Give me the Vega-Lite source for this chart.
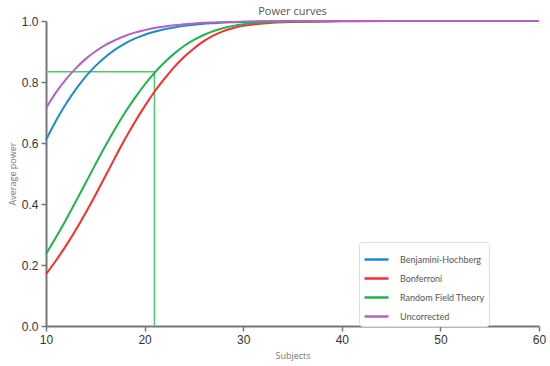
{
  "$schema": "https://vega.github.io/schema/vega-lite/v6.json",
  "width": 493,
  "height": 305,
  "autosize": {"type": "none"},
  "padding": {"left": 46, "top": 21, "right": 11, "bottom": 40},
  "background": "white",
  "title": {"text": "Power curves", "anchor": "middle", "fontSize": 11, "font": "Open Sans", "fontWeight": "normal", "color": "#555", "offset": -2},
  "config": {
    "view": {"stroke": null},
    "axis": {"grid": false, "labelFlush": false, "domainColor": "#777", "domainWidth": 2, "tickColor": "#777", "tickWidth": 1.5, "tickSize": 5, "labelFont": "Liberation Sans", "labelFontSize": 12, "labelColor": "#333", "titleFont": "Open Sans", "titleFontSize": 9, "titleFontWeight": "normal", "titleColor": "#777"}
  },
  "datasets": {
    "curves": [
      {"n":10,"power":0.61,"method":"Benjamini-Hochberg"},{"n":11,"power":0.672,"method":"Benjamini-Hochberg"},{"n":12,"power":0.727,"method":"Benjamini-Hochberg"},{"n":13,"power":0.775,"method":"Benjamini-Hochberg"},{"n":14,"power":0.817,"method":"Benjamini-Hochberg"},{"n":15,"power":0.852,"method":"Benjamini-Hochberg"},{"n":16,"power":0.881,"method":"Benjamini-Hochberg"},{"n":17,"power":0.906,"method":"Benjamini-Hochberg"},{"n":18,"power":0.926,"method":"Benjamini-Hochberg"},{"n":19,"power":0.942,"method":"Benjamini-Hochberg"},{"n":20,"power":0.955,"method":"Benjamini-Hochberg"},{"n":21,"power":0.965,"method":"Benjamini-Hochberg"},{"n":22,"power":0.973,"method":"Benjamini-Hochberg"},{"n":23,"power":0.979,"method":"Benjamini-Hochberg"},{"n":24,"power":0.984,"method":"Benjamini-Hochberg"},{"n":25,"power":0.988,"method":"Benjamini-Hochberg"},{"n":26,"power":0.991,"method":"Benjamini-Hochberg"},{"n":27,"power":0.993,"method":"Benjamini-Hochberg"},{"n":28,"power":0.995,"method":"Benjamini-Hochberg"},{"n":29,"power":0.996,"method":"Benjamini-Hochberg"},{"n":30,"power":0.997,"method":"Benjamini-Hochberg"},{"n":32,"power":0.998,"method":"Benjamini-Hochberg"},{"n":35,"power":0.999,"method":"Benjamini-Hochberg"},{"n":40,"power":1,"method":"Benjamini-Hochberg"},{"n":45,"power":1,"method":"Benjamini-Hochberg"},{"n":50,"power":1,"method":"Benjamini-Hochberg"},{"n":55,"power":1,"method":"Benjamini-Hochberg"},{"n":60,"power":1,"method":"Benjamini-Hochberg"},
      {"n":10,"power":0.17,"method":"Bonferroni"},{"n":11,"power":0.214,"method":"Bonferroni"},{"n":12,"power":0.262,"method":"Bonferroni"},{"n":13,"power":0.314,"method":"Bonferroni"},{"n":14,"power":0.37,"method":"Bonferroni"},{"n":15,"power":0.429,"method":"Bonferroni"},{"n":16,"power":0.49,"method":"Bonferroni"},{"n":17,"power":0.552,"method":"Bonferroni"},{"n":18,"power":0.612,"method":"Bonferroni"},{"n":19,"power":0.668,"method":"Bonferroni"},{"n":20,"power":0.72,"method":"Bonferroni"},{"n":21,"power":0.768,"method":"Bonferroni"},{"n":22,"power":0.81,"method":"Bonferroni"},{"n":23,"power":0.849,"method":"Bonferroni"},{"n":24,"power":0.882,"method":"Bonferroni"},{"n":25,"power":0.91,"method":"Bonferroni"},{"n":26,"power":0.934,"method":"Bonferroni"},{"n":27,"power":0.953,"method":"Bonferroni"},{"n":28,"power":0.967,"method":"Bonferroni"},{"n":29,"power":0.977,"method":"Bonferroni"},{"n":30,"power":0.984,"method":"Bonferroni"},{"n":32,"power":0.992,"method":"Bonferroni"},{"n":35,"power":0.997,"method":"Bonferroni"},{"n":40,"power":0.999,"method":"Bonferroni"},{"n":45,"power":1,"method":"Bonferroni"},{"n":50,"power":1,"method":"Bonferroni"},{"n":55,"power":1,"method":"Bonferroni"},{"n":60,"power":1,"method":"Bonferroni"},
      {"n":10,"power":0.236,"method":"Random Field Theory"},{"n":11,"power":0.29,"method":"Random Field Theory"},{"n":12,"power":0.347,"method":"Random Field Theory"},{"n":13,"power":0.407,"method":"Random Field Theory"},{"n":14,"power":0.468,"method":"Random Field Theory"},{"n":15,"power":0.529,"method":"Random Field Theory"},{"n":16,"power":0.589,"method":"Random Field Theory"},{"n":17,"power":0.646,"method":"Random Field Theory"},{"n":18,"power":0.699,"method":"Random Field Theory"},{"n":19,"power":0.747,"method":"Random Field Theory"},{"n":20,"power":0.791,"method":"Random Field Theory"},{"n":21,"power":0.83,"method":"Random Field Theory"},{"n":22,"power":0.864,"method":"Random Field Theory"},{"n":23,"power":0.893,"method":"Random Field Theory"},{"n":24,"power":0.918,"method":"Random Field Theory"},{"n":25,"power":0.938,"method":"Random Field Theory"},{"n":26,"power":0.954,"method":"Random Field Theory"},{"n":27,"power":0.967,"method":"Random Field Theory"},{"n":28,"power":0.977,"method":"Random Field Theory"},{"n":29,"power":0.984,"method":"Random Field Theory"},{"n":30,"power":0.989,"method":"Random Field Theory"},{"n":32,"power":0.995,"method":"Random Field Theory"},{"n":35,"power":0.998,"method":"Random Field Theory"},{"n":40,"power":1,"method":"Random Field Theory"},{"n":45,"power":1,"method":"Random Field Theory"},{"n":50,"power":1,"method":"Random Field Theory"},{"n":55,"power":1,"method":"Random Field Theory"},{"n":60,"power":1,"method":"Random Field Theory"},
      {"n":10,"power":0.714,"method":"Uncorrected"},{"n":11,"power":0.765,"method":"Uncorrected"},{"n":12,"power":0.808,"method":"Uncorrected"},{"n":13,"power":0.844,"method":"Uncorrected"},{"n":14,"power":0.875,"method":"Uncorrected"},{"n":15,"power":0.9,"method":"Uncorrected"},{"n":16,"power":0.921,"method":"Uncorrected"},{"n":17,"power":0.937,"method":"Uncorrected"},{"n":18,"power":0.951,"method":"Uncorrected"},{"n":19,"power":0.962,"method":"Uncorrected"},{"n":20,"power":0.97,"method":"Uncorrected"},{"n":21,"power":0.977,"method":"Uncorrected"},{"n":22,"power":0.982,"method":"Uncorrected"},{"n":23,"power":0.986,"method":"Uncorrected"},{"n":24,"power":0.989,"method":"Uncorrected"},{"n":25,"power":0.992,"method":"Uncorrected"},{"n":26,"power":0.994,"method":"Uncorrected"},{"n":27,"power":0.995,"method":"Uncorrected"},{"n":28,"power":0.996,"method":"Uncorrected"},{"n":29,"power":0.997,"method":"Uncorrected"},{"n":30,"power":0.998,"method":"Uncorrected"},{"n":32,"power":0.999,"method":"Uncorrected"},{"n":35,"power":1,"method":"Uncorrected"},{"n":40,"power":1,"method":"Uncorrected"},{"n":45,"power":1,"method":"Uncorrected"},{"n":50,"power":1,"method":"Uncorrected"},{"n":55,"power":1,"method":"Uncorrected"},{"n":60,"power":1,"method":"Uncorrected"}
    ],
    "crosshair": [
      {"n":10,"power":0.834,"seg":1},{"n":21,"power":0.834,"seg":2},{"n":21,"power":0,"seg":3}
    ]
  },
  "layer": [
    {
      "data": {"name": "crosshair"},
      "mark": {"type": "line", "color": "#4cc96a", "strokeWidth": 1.5},
      "encoding": {
        "x": {"field": "n", "type": "quantitative"},
        "y": {"field": "power", "type": "quantitative"},
        "order": {"field": "seg"}
      }
    },
    {
      "data": {"name": "curves"},
      "mark": {"type": "line", "strokeWidth": 2, "interpolate": "monotone"},
      "encoding": {
        "x": {"field": "n", "type": "quantitative", "scale": {"domain": [10, 60], "nice": false}, "axis": {"title": "Subjects", "values": [10, 20, 30, 40, 50, 60], "labelPadding": 3, "titlePadding": 6}},
        "y": {"field": "power", "type": "quantitative", "scale": {"domain": [0, 1], "nice": false}, "axis": {"title": "Average power", "values": [0, 0.2, 0.4, 0.6, 0.8, 1], "format": ".1f", "labelPadding": 3, "titlePadding": 4}},
        "color": {
          "field": "method", "type": "nominal",
          "scale": {"domain": ["Benjamini-Hochberg", "Bonferroni", "Random Field Theory", "Uncorrected"], "range": ["#1a8bd0", "#ff2a2a", "#1fb44a", "#b561c4"]},
          "legend": {"title": null, "orient": "none", "legendX": 313, "legendY": 221, "symbolType": "stroke", "symbolSize": 576, "symbolStrokeWidth": 2.5, "labelFont": "Lato", "labelFontSize": 9, "labelColor": "#555", "labelOffset": 10, "rowPadding": -6, "padding": 4, "strokeColor": "#ddd", "fillColor": "white", "cornerRadius": 3}
        }
      }
    }
  ]
}
